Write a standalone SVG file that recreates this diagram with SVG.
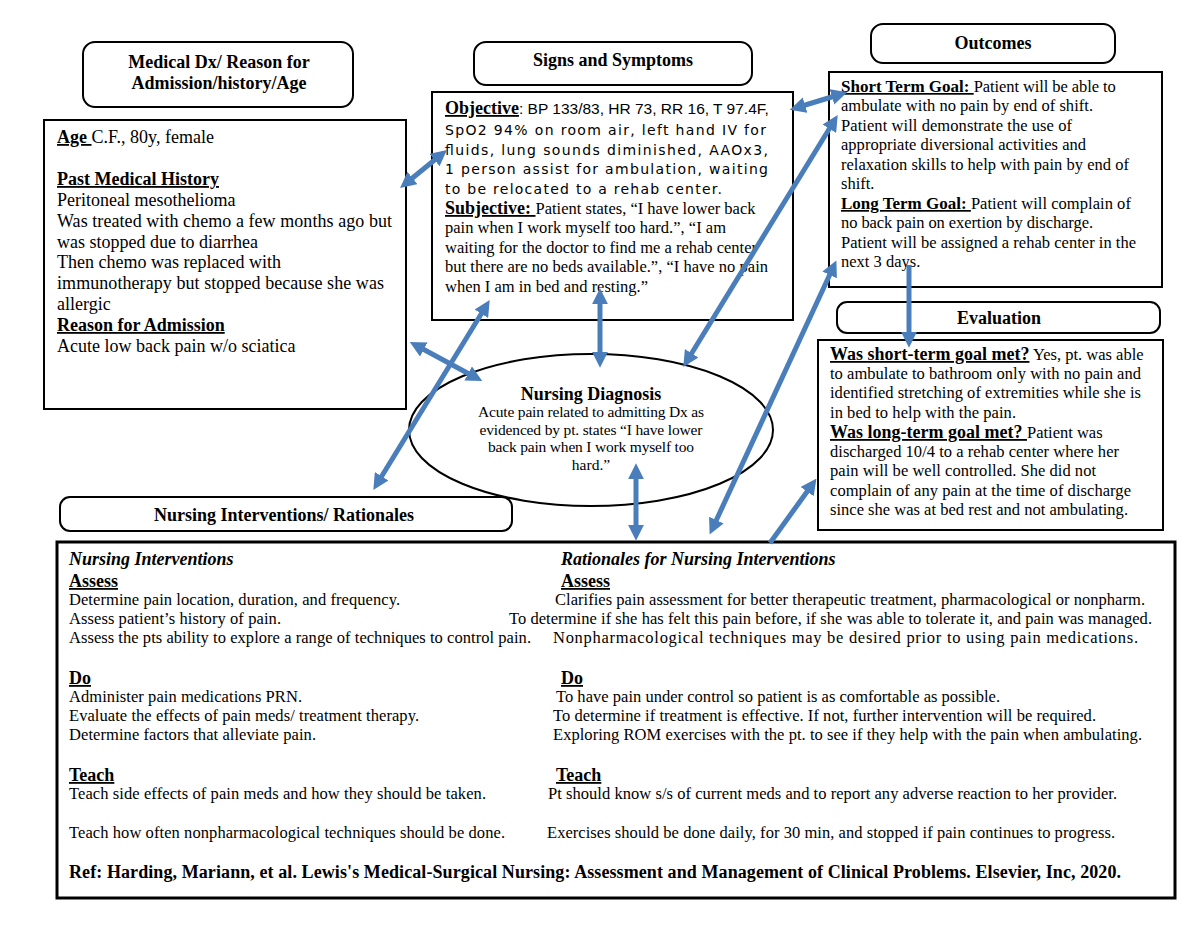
<svg xmlns="http://www.w3.org/2000/svg" width="1200" height="927" viewBox="0 0 1200 927">
<style>
.t{font-family:"Liberation Serif",serif;fill:#000}
.f18{font-size:18px}
.f17{font-size:17px}
.f16{font-size:16.5px}
.f14{font-size:15.5px}
.sans{font-family:"DejaVu Sans",sans-serif;font-size:14px}
.arial{font-family:"Liberation Sans",sans-serif;font-size:15.5px}
.b{font-weight:bold}
.i{font-style:italic}
.u{text-decoration:underline}
.hdr{fill:#fff;stroke:#000;stroke-width:2}
.box{fill:#fff;stroke:#000;stroke-width:2}
.arr{stroke:#4A7EBB;stroke-width:5;fill:none}
</style>
<defs>
<marker id="ah" viewBox="0 0 10 10" refX="2" refY="5" markerWidth="16" markerHeight="16" markerUnits="userSpaceOnUse" orient="auto-start-reverse">
<path d="M0,0 L10,5 L0,10 z" fill="#4A7EBB"/>
</marker>
</defs>
<rect width="1200" height="927" fill="#fff"/>

<g id="hdr-medical">
<rect class="hdr" x="83" y="42" width="270" height="65" rx="12"/>
<text class="t f18 b" x="219" y="68" text-anchor="middle">Medical Dx/ Reason for</text>
<text class="t f18 b" x="219" y="89" text-anchor="middle">Admission/history/Age</text>
</g>
<g id="hdr-signs">
<rect class="hdr" x="474" y="42" width="278" height="43" rx="12"/>
<text class="t f18 b" x="613" y="66" text-anchor="middle">Signs and Symptoms</text>
</g>
<g id="hdr-outcomes">
<rect class="hdr" x="871" y="24" width="244" height="39" rx="12"/>
<text class="t f18 b" x="993" y="49" text-anchor="middle">Outcomes</text>
</g>
<g id="hdr-evaluation">
<rect class="hdr" x="837" y="302" width="323" height="31" rx="10"/>
<text class="t f18 b" x="999" y="324" text-anchor="middle">Evaluation</text>
</g>
<g id="hdr-interventions">
<rect class="hdr" x="60" y="497" width="452" height="34" rx="10"/>
<text class="t f18 b" x="284" y="521" text-anchor="middle">Nursing Interventions/ Rationales</text>
</g>

<g id="node-medical">
<rect class="box" x="44" y="120" width="362" height="289"/>
<text class="t f18" x="57" y="143"><tspan class="b u">Age </tspan>C.F., 80y, female</text>
<text class="t f18 b u" x="57" y="185">Past Medical History</text>
<text class="t f18" x="57" y="206">Peritoneal mesothelioma</text>
<text class="t f18" x="57" y="227" textLength="335">Was treated with chemo a few months ago but</text>
<text class="t f18" x="57" y="248">was stopped due to diarrhea</text>
<text class="t f18" x="57" y="268">Then chemo was replaced with</text>
<text class="t f18" x="57" y="289" textLength="327">immunotherapy but stopped because she was</text>
<text class="t f18" x="57" y="310">allergic</text>
<text class="t f18 b u" x="57" y="331">Reason for Admission</text>
<text class="t f18" x="57" y="352">Acute low back pain w/o sciatica</text>
</g>

<g id="node-signs">
<rect class="box" x="432" y="92" width="361" height="228"/>
<text x="445" y="114"><tspan class="t f18 b u">Objective</tspan><tspan class="arial">: BP 133/83, HR 73, RR 16, T 97.4F,</tspan></text>
<text class="sans" x="445" y="135" textLength="321">SpO2 94% on room air, left hand IV for</text>
<text class="sans" x="445" y="155" textLength="323">fluids, lung sounds diminished, AAOx3,</text>
<text class="sans" x="445" y="174" textLength="323">1 person assist for ambulation, waiting</text>
<text class="sans" x="445" y="194" textLength="277">to be relocated to a rehab center.</text>
<text x="445" y="214"><tspan class="t f18 b u">Subjective: </tspan><tspan class="t f16" textLength="220"> Patient states, “I have lower back</tspan></text>
<text class="t f16" x="445" y="233" textLength="281">pain when I work myself too hard.”, “I am</text>
<text class="t f16" x="445" y="253" textLength="312">waiting for the doctor to find me a rehab center</text>
<text class="t f16" x="445" y="272" textLength="323">but there are no beds available.”, “I have no pain</text>
<text class="t f16" x="445" y="292" textLength="203">when I am in bed and resting.”</text>
</g>

<g id="node-outcomes">
<rect class="box" x="829" y="72" width="333" height="215"/>
<text x="841" y="92"><tspan class="t f17 b u">Short Term Goal: </tspan><tspan class="t f16" textLength="142">Patient will be able to</tspan></text>
<text class="t f16" x="841" y="111" textLength="252">ambulate with no pain by end of shift.</text>
<text class="t f16" x="841" y="131" textLength="231">Patient will demonstrate the use of</text>
<text class="t f16" x="841" y="150" textLength="245">appropriate diversional activities and</text>
<text class="t f16" x="841" y="170" textLength="288">relaxation skills to help with pain by end of</text>
<text class="t f16" x="841" y="189">shift.</text>
<text x="841" y="209"><tspan class="t f17 b u">Long Term Goal: </tspan><tspan class="t f16" textLength="160">Patient will complain of</tspan></text>
<text class="t f16" x="841" y="228" textLength="252">no back pain on exertion by discharge.</text>
<text class="t f16" x="841" y="248" textLength="295">Patient will be assigned a rehab center in the</text>
<text class="t f16" x="841" y="267">next 3 days.</text>
</g>

<g id="node-evaluation">
<rect class="box" x="818" y="340" width="345" height="190"/>
<text x="830" y="360"><tspan class="t f18 b u">Was short-term goal met?</tspan><tspan class="t f16"> Yes, pt. was able</tspan></text>
<text class="t f16" x="830" y="379" textLength="311">to ambulate to bathroom only with no pain and</text>
<text class="t f16" x="830" y="398" textLength="311">identified stretching of extremities while she is</text>
<text class="t f16" x="830" y="418" textLength="186">in bed to help with the pain.</text>
<text x="830" y="438"><tspan class="t f18 b u">Was long-term goal met? </tspan><tspan class="t f16">Patient was</tspan></text>
<text class="t f16" x="830" y="457" textLength="289">discharged 10/4 to a rehab center where her</text>
<text class="t f16" x="830" y="476" textLength="266">pain will be well controlled. She did not</text>
<text class="t f16" x="830" y="496" textLength="301">complain of any pain at the time of discharge</text>
<text class="t f16" x="830" y="515" textLength="298">since she was at bed rest and not ambulating.</text>
</g>

<g id="node-diagnosis">
<ellipse cx="591" cy="430" rx="182" ry="76" fill="#fff" stroke="#000" stroke-width="2"/>
<text class="t f18 b" x="591" y="400" text-anchor="middle">Nursing Diagnosis</text>
<text class="t f14" x="591" y="417" text-anchor="middle" textLength="226">Acute pain related to admitting Dx as</text>
<text class="t f14" x="591" y="435" text-anchor="middle" textLength="223">evidenced by pt. states “I have lower</text>
<text class="t f14" x="591" y="452" text-anchor="middle" textLength="206">back pain when I work myself too</text>
<text class="t f14" x="591" y="470" text-anchor="middle">hard.”</text>
</g>

<g id="node-interventions">
<rect x="57" y="542" width="1118" height="356" fill="#fff" stroke="#000" stroke-width="3"/>
<text class="t f18 b i" x="69" y="565">Nursing Interventions</text>
<text class="t f18 b i" x="561" y="565">Rationales for Nursing Interventions</text>
<text class="t f18 b u" x="69" y="587">Assess </text>
<text class="t f18 b u" x="561" y="587">Assess</text>
<text class="t f16" x="69" y="605" textLength="331">Determine pain location, duration, and frequency.</text>
<text class="t f16" x="555" y="605" textLength="590">Clarifies pain assessment for better therapeutic treatment, pharmacological or nonpharm.</text>
<text class="t f16" x="69" y="624" textLength="212">Assess patient’s history of pain.</text>
<text class="t f16" x="509" y="624" textLength="643">To determine if she has felt this pain before, if she was able to tolerate it, and pain was managed.</text>
<text class="t f16" x="69" y="643" textLength="462">Assess the pts ability to explore a range of techniques to control pain.</text>
<text class="t f16" x="553" y="643" textLength="585">Nonpharmacological techniques may be desired prior to using pain medications.</text>
<text class="t f18 b u" x="69" y="684">Do </text>
<text class="t f18 b u" x="561" y="684">Do</text>
<text class="t f16" x="69" y="702" textLength="233">Administer pain medications PRN.</text>
<text class="t f16" x="556" y="702" textLength="444">To have pain under control so patient is as comfortable as possible.</text>
<text class="t f16" x="69" y="721" textLength="350">Evaluate the effects of pain meds/ treatment therapy.</text>
<text class="t f16" x="553" y="721" textLength="543">To determine if treatment is effective. If not, further intervention will be required.</text>
<text class="t f16" x="69" y="740" textLength="247">Determine factors that alleviate pain.</text>
<text class="t f16" x="553" y="740" textLength="589">Exploring ROM exercises with the pt. to see if they help with the pain when ambulating.</text>
<text class="t f18 b u" x="69" y="781">Teach</text>
<text class="t f18 b u" x="556" y="781">Teach</text>
<text class="t f16" x="69" y="799" textLength="417">Teach side effects of pain meds and how they should be taken.</text>
<text class="t f16" x="548" y="799" textLength="569">Pt should know s/s of current meds and to report any adverse reaction to her provider.</text>
<text class="t f16" x="69" y="838" textLength="436">Teach how often nonpharmacological techniques should be done.</text>
<text class="t f16" x="547" y="838" textLength="568">Exercises should be done daily, for 30 min, and stopped if pain continues to progress.</text>
<text class="t f18 b" x="69" y="878" textLength="1052">Ref: Harding, Mariann, et al. Lewis's Medical-Surgical Nursing: Assessment and Management of Clinical Problems. Elsevier, Inc, 2020.</text>
</g>

<g id="connectors">
<line class="arr" x1="410" y1="180" x2="437" y2="158" marker-start="url(#ah)" marker-end="url(#ah)"/>
<line class="arr" x1="802" y1="106" x2="835" y2="96" marker-start="url(#ah)" marker-end="url(#ah)"/>
<line class="arr" x1="380" y1="479" x2="483" y2="311" marker-start="url(#ah)" marker-end="url(#ah)"/>
<line class="arr" x1="600" y1="301" x2="600" y2="355" marker-start="url(#ah)" marker-end="url(#ah)"/>
<line class="arr" x1="421" y1="348" x2="471" y2="375" marker-start="url(#ah)" marker-end="url(#ah)"/>
<line class="arr" x1="690" y1="356" x2="831" y2="126" marker-start="url(#ah)" marker-end="url(#ah)"/>
<line class="arr" x1="715" y1="523" x2="831" y2="272" marker-start="url(#ah)" marker-end="url(#ah)"/>
<line class="arr" x1="636" y1="476" x2="636" y2="528" marker-start="url(#ah)" marker-end="url(#ah)"/>
<line class="arr" x1="770" y1="543" x2="809" y2="489" marker-end="url(#ah)"/>
<line class="arr" x1="909" y1="265" x2="909" y2="335" marker-end="url(#ah)"/>
</g>
</svg>
